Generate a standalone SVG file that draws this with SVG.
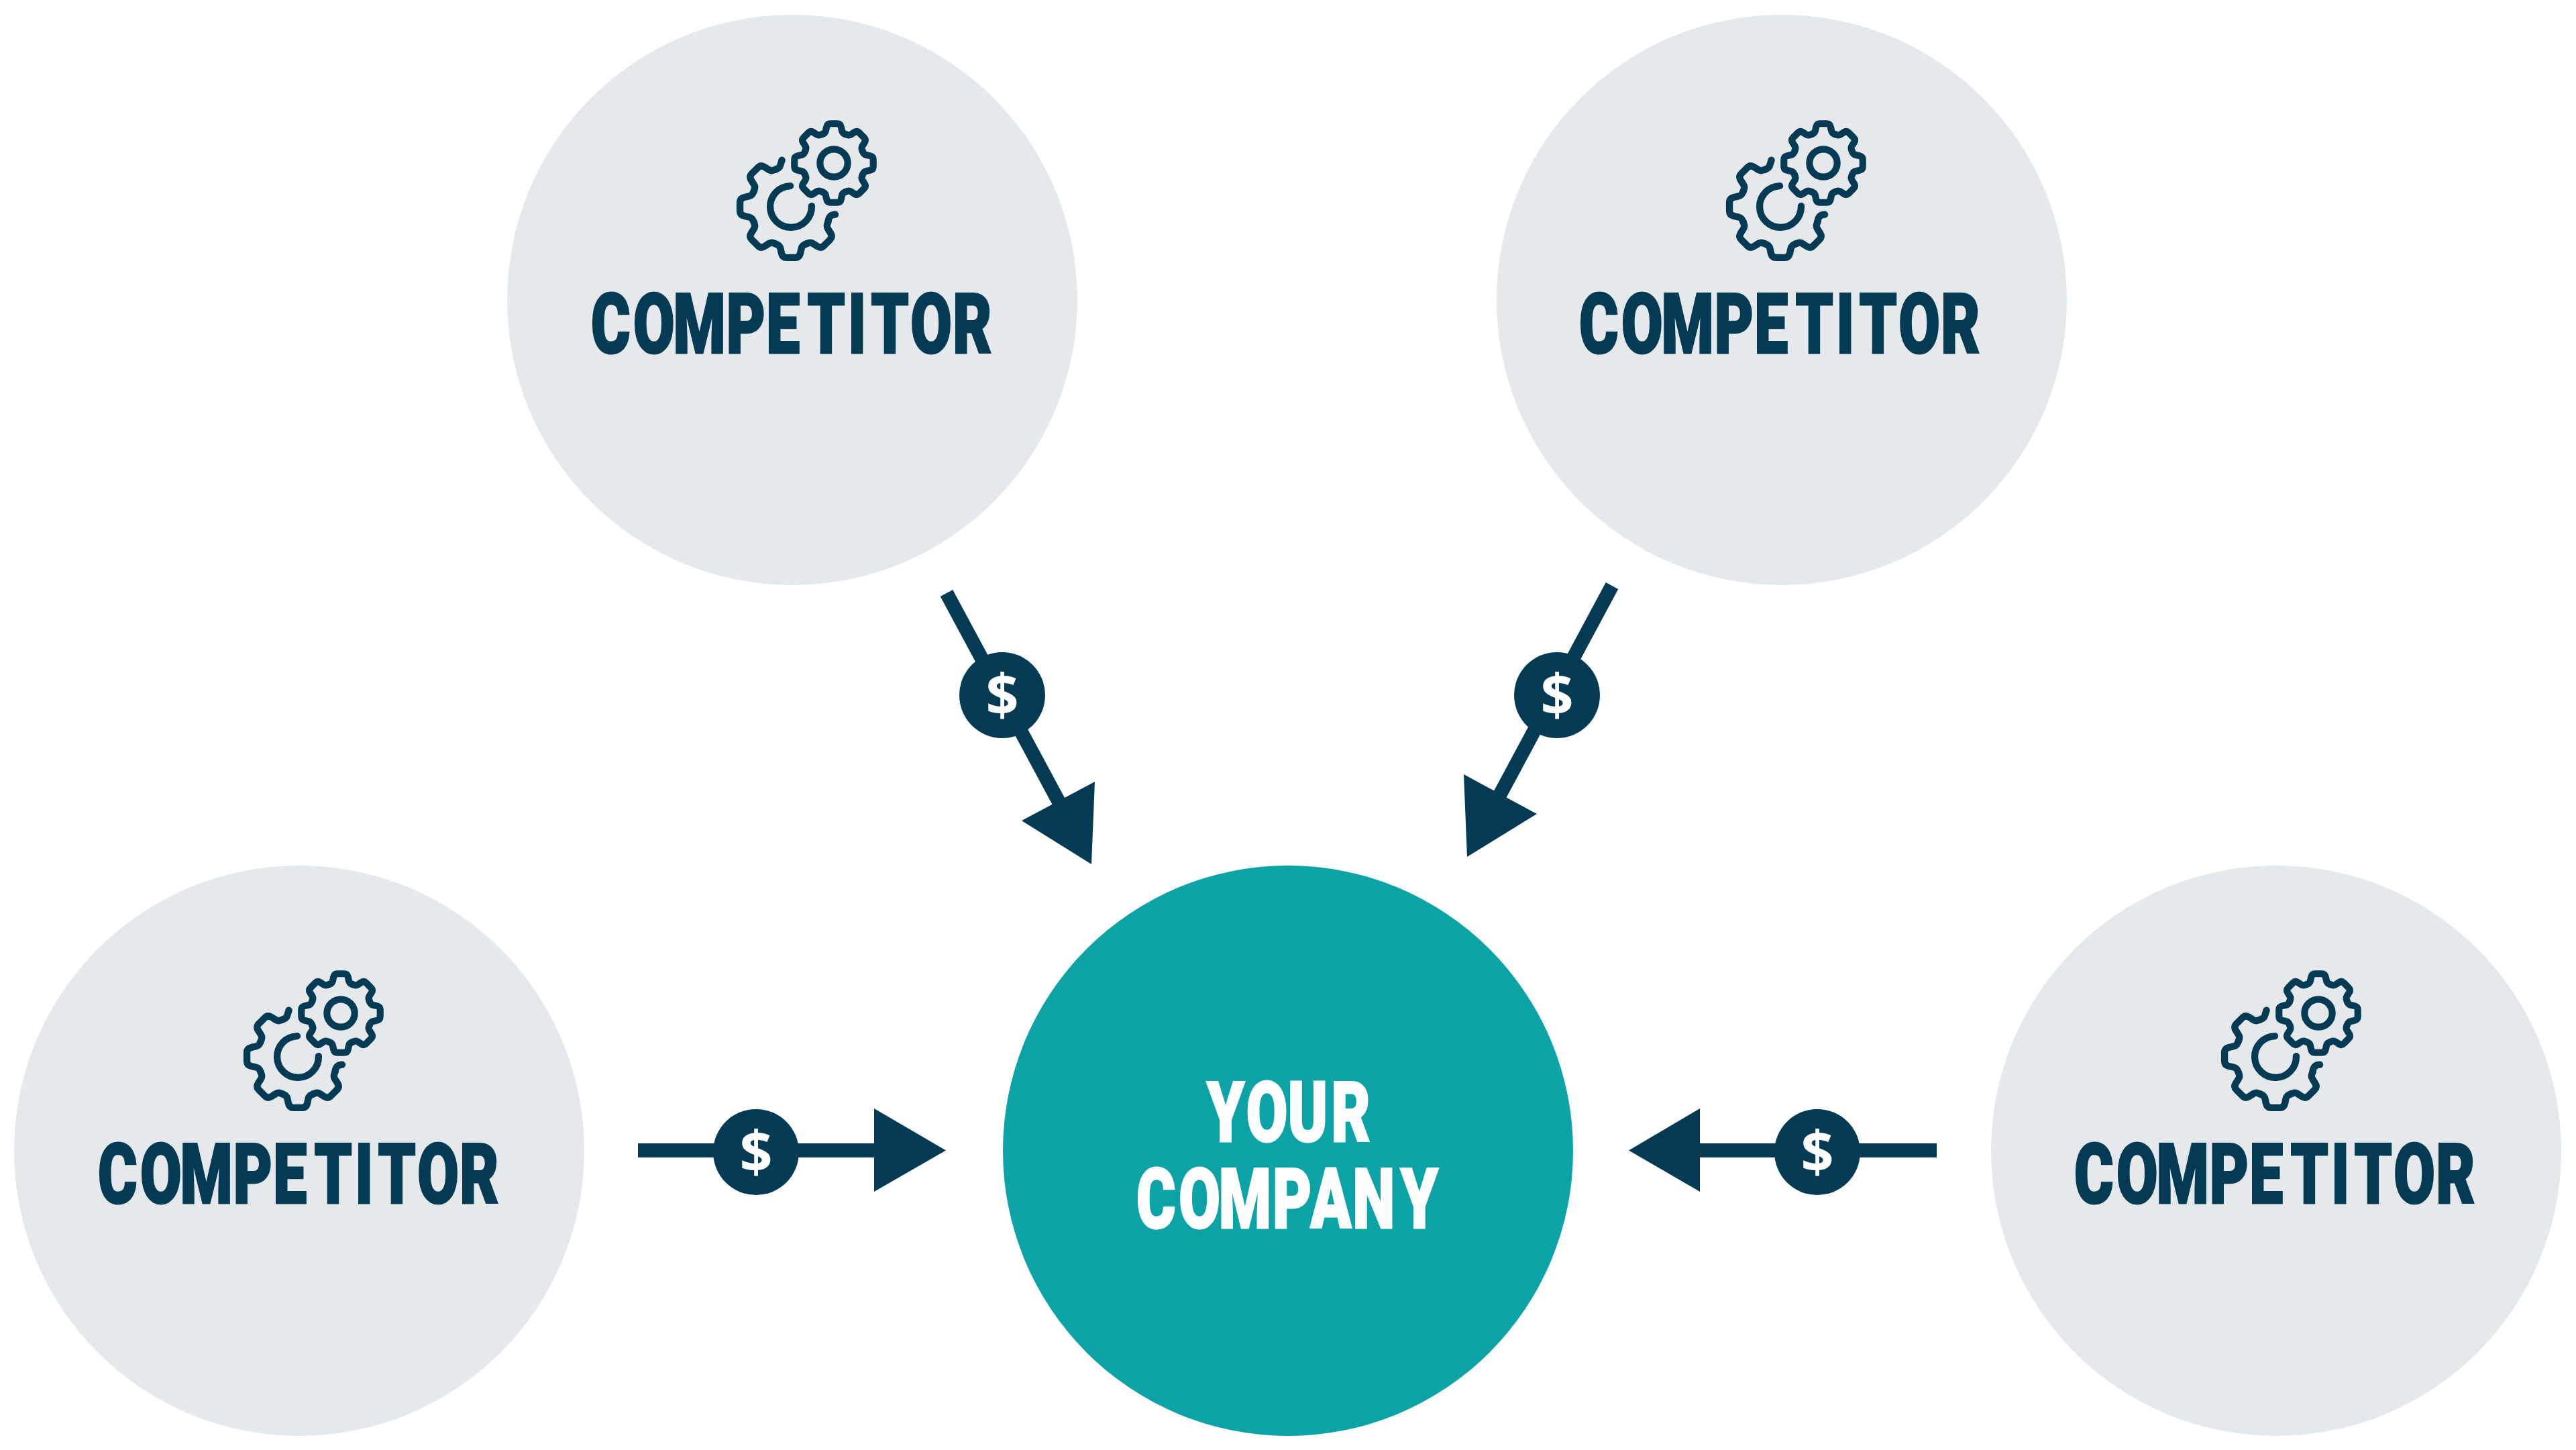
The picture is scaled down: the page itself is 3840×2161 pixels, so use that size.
<svg xmlns="http://www.w3.org/2000/svg" width="3840" height="2161" viewBox="0 0 3840 2161">
<style>
.bg{fill:#E6E9EC}
.teal{fill:#0CA3A6}
.navy{fill:#043A54}
.shaft{stroke:#043A54;stroke-width:21;fill:none}
.gear{fill:none;stroke:#043A54;stroke-linecap:round;stroke-linejoin:round}
.lbl{font-family:Roboto,"Liberation Sans",sans-serif;font-weight:900;font-size:124px;stroke-width:3px;stroke-miterlimit:3}
.dk{fill:#043A54;stroke:#043A54}
.wh{fill:#fff;stroke:#fff}
.usd{font-family:"Open Sans",sans-serif;font-weight:700;font-size:86px;fill:#fff;text-anchor:middle}
</style>
<defs>
<path id="tooth" d="M-24.5,-59C-20,-61 -17.5,-62 -16.5,-67L-15,-74Q-13.5,-81 -7,-81H7Q13.5,-81 15,-74L16.5,-67C17.5,-62 20,-61 24.5,-59"/>
<g id="gears">
<g class="gear" transform="translate(63,-203) scale(.725)" stroke-width="14">
<use href="#tooth"/><use href="#tooth" transform="rotate(45)"/><use href="#tooth" transform="rotate(90)"/><use href="#tooth" transform="rotate(135)"/><use href="#tooth" transform="rotate(180)"/><use href="#tooth" transform="rotate(225)"/><use href="#tooth" transform="rotate(270)"/><use href="#tooth" transform="rotate(315)"/>
<circle r="28.5"/>
</g>
<g class="gear" transform="translate(-1,-138) scale(.9375)" stroke-width="11">
<use href="#tooth" transform="rotate(135)"/><use href="#tooth" transform="rotate(180)"/><use href="#tooth" transform="rotate(225)"/><use href="#tooth" transform="rotate(270)"/><use href="#tooth" transform="rotate(315)"/>
<path d="M59,24.5C60,20 60,13 70.5,12.5"/>
<path d="M-24.5,-59C-20,-61 -17.5,-62 -16.5,-67L-14.3,-74"/>
<path d="M-1,-33A33,33 0 1 0 33,-1"/>
</g>
</g>
</defs>
<rect width="3840" height="2161" fill="#fff"/>
<g id="connectors">
<g id="arrow-top-left"><line class="shaft" x1="1411" y1="884" x2="1580" y2="1198"/><polygon class="navy" points="1523,1223 1632,1165 1627,1288"/><circle class="navy" cx="1494" cy="1036" r="64"/><text class="usd" x="1494" y="1067">$</text></g>
<g id="arrow-top-right"><line class="shaft" x1="2403" y1="873" x2="2235" y2="1186"/><polygon class="navy" points="2182,1154 2291,1213 2187,1277"/><circle class="navy" cx="2321" cy="1036" r="64"/><text class="usd" x="2321" y="1067">$</text></g>
<g id="arrow-left"><line class="shaft" x1="951" y1="1714.5" x2="1310" y2="1714.5"/><polygon class="navy" points="1303,1652 1410,1714.5 1303,1776"/><circle class="navy" cx="1127" cy="1717" r="64"/><text class="usd" x="1127" y="1748">$</text></g>
<g id="arrow-right"><line class="shaft" x1="2887" y1="1714.5" x2="2525" y2="1714.5"/><polygon class="navy" points="2534,1652 2428,1714.5 2534,1776"/><circle class="navy" cx="2709" cy="1717" r="64"/><text class="usd" x="2709" y="1748">$</text></g>
</g>
<g id="competitor-top-left"><circle class="bg" cx="1181" cy="447" r="425"/><use href="#gears" x="1180" y="446"/><text class="lbl dk" transform="translate(885,525.5) scale(.72,1)" x="-5.6 82 164.5 274.6 357.4 442.3 526.8 574.4 656 743.5">COMPETITOR</text></g>
<g id="competitor-top-right"><circle class="bg" cx="2656" cy="447" r="425"/><use href="#gears" x="2655" y="446"/><text class="lbl dk" transform="translate(2358,525.5) scale(.72,1)" x="-5.6 82 164.5 274.6 357.4 442.3 526.8 574.4 656 743.5">COMPETITOR</text></g>
<g id="competitor-bottom-left"><circle class="bg" cx="446" cy="1715" r="425"/><use href="#gears" x="445" y="1713"/><text class="lbl dk" transform="translate(150,1792.5) scale(.72,1)" x="-5.6 82 164.5 274.6 357.4 442.3 526.8 574.4 656 743.5">COMPETITOR</text></g>
<g id="competitor-bottom-right"><circle class="bg" cx="3393" cy="1715" r="425"/><use href="#gears" x="3393" y="1713"/><text class="lbl dk" transform="translate(3096,1792.5) scale(.72,1)" x="-5.6 82 164.5 274.6 357.4 442.3 526.8 574.4 656 743.5">COMPETITOR</text></g>
<g id="your-company"><circle class="teal" cx="1920" cy="1715" r="425"/><text class="lbl wh" transform="translate(1799,1700.5) scale(.72,1)" x="0 81.6 167.8 257.5">YOUR</text><text class="lbl wh" transform="translate(1698,1829.5) scale(.72,1)" x="-5.6 82.2 165 276.3 355 442.5 541.5">COMPANY</text></g>
</svg>
